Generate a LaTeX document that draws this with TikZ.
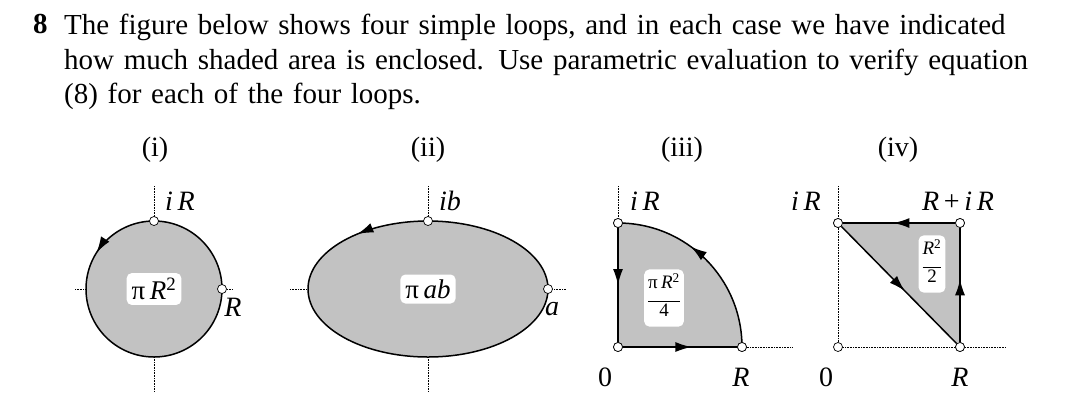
\documentclass[tikz,border=0pt]{standalone}
\usepackage{fontspec}
\setmainfont{Liberation Serif}
\usetikzlibrary{decorations.markings,arrows.meta}
\newcommand{\vv}[1]{\textit{#1}}
\newcommand{\qfr}[2]{\begin{tabular}{@{}c@{}}#1\\[-7pt]\rule{0pt}{0pt}\hrulefill\\[-5pt]#2\end{tabular}}
\begin{document}
\begin{tikzpicture}[x=1pt,y=-1pt,
  ax/.style={densely dotted,line width=0.6pt},
  curve/.style={line width=1.5pt,fill=black!24},
  edge/.style={line width=1.5pt},
  pt/.style={circle,draw,fill=white,inner sep=0pt,minimum size=9pt,line width=0.7pt},
  lab/.style={font=\fontsize{28}{30}\selectfont},
  area/.style={fill=white,rounded corners=5pt,inner sep=5pt,font=\fontsize{27}{29}\selectfont},
  farea/.style={fill=white,rounded corners=5pt,inner sep=4pt,font=\fontsize{19}{20}\selectfont},
  mark at/.style={postaction={decorate,decoration={markings,mark=at position #1 with {\arrow{Latex[length=16pt,width=10pt]}}}}}]
\useasboundingbox (0,0) rectangle (1085,408);
\node[anchor=north west,inner sep=0pt,font=\fontsize{29}{34.5}\selectfont\bfseries] (num) at (33,14) {8};
\node[anchor=north west,inner sep=0pt,text width=990pt,align=left,font=\fontsize{29}{34.5}\selectfont] (txt) at (64,14) {The figure below shows four simple loops, and in each case we have indicated how much shaded area is enclosed. Use parametric evaluation to verify \mbox{equation} (8) for each of the four loops.};
\foreach \x/\t/\n in {155/(i)/h1,428/(ii)/h2,682/(iii)/h3,898/(iv)/h4}
  \node[font=\fontsize{28}{30}\selectfont] (\n) at (\x,150) {\t};
% (i)
\draw[ax] (154,186) -- (154,392);
\draw[ax] (75,289) -- (232,289);
\draw[curve,mark at=0.41] (222,289) arc (0:-360:68);
\node[area] (a1) at (154,289) {π\,\vv{R}\textsuperscript{2}};
\node[pt] (c1a) at (154,221) {};
\node[pt] (c1b) at (222,289) {};
\node[lab] (l1a) at (180,201) {\vv{i\,R}};
\node[lab] (l1b) at (233,307) {\vv{R}};
% (ii)
\draw[ax] (428,186) -- (428,392);
\draw[ax] (290,289) -- (566,289);
\draw[curve,mark at=0.37] (548,289) arc [start angle=0,end angle=-360,x radius=120,y radius=68];
\node[area] (a2) at (428,289) {π\,\vv{ab}};
\node[pt] (c2a) at (428,221) {};
\node[pt] (c2b) at (548,289) {};
\node[lab] (l2a) at (450,201) {\vv{ib}};
\node[lab] (l2b) at (552,309) {\vv{a}};
% (iii)
\draw[ax] (618,186) -- (618,223);
\draw[ax] (742,347) -- (792,347);
\fill[black!24] (618,347) -- (742,347) arc (0:-90:124) -- cycle;
\node[pt] (c3o) at (618,347) {};
\node[pt] (c3r) at (742,347) {};
\node[pt] (c3i) at (618,223) {};
\draw[edge,mark at=0.6] (c3o) -- (c3r);
\draw[edge,mark at=0.6] (742,347) arc (0:-90:124);
\draw[edge,mark at=0.5] (c3i) -- (c3o);
\node[pt] at (618,347) {};
\node[pt] at (742,347) {};
\node[pt] at (618,223) {};
\node[farea] (a3) at (664,298) {\qfr{π\,\vv{R}\textsuperscript{2}}{4}};
\node[lab] (l3i) at (645,201) {\vv{i\,R}};
\node[lab] (l3o) at (605,377) {0};
\node[lab] (l3r) at (741,377) {\vv{R}};
% (iv)
\draw[ax] (838,186) -- (838,347) -- (1006,347);
\node[pt] (c4o) at (838,347) {};
\node[pt] (c4i) at (838,223) {};
\node[pt] (c4r) at (960,347) {};
\node[pt] (c4ri) at (960,223) {};
\fill[black!24] (c4i.center) -- (c4r.center) -- (c4ri.center) -- cycle;
\draw[edge,mark at=0.55] (c4i) -- (c4r);
\draw[edge,mark at=0.55] (c4r) -- (c4ri);
\draw[edge,mark at=0.55] (c4ri) -- (c4i);
\node[pt] at (838,223) {};
\node[pt] at (960,347) {};
\node[pt] at (960,223) {};
\node[farea] (a4) at (932,264) {\qfr{\vv{R}\textsuperscript{2}}{2}};
\node[lab] (l4i) at (806,201) {\vv{i\,R}};
\node[lab] (l4ri) at (958,201) {\vv{R}\,+\,\vv{i\,R}};
\node[lab] (l4o) at (826,377) {0};
\node[lab] (l4r) at (960,377) {\vv{R}};
\end{tikzpicture}
\end{document}
